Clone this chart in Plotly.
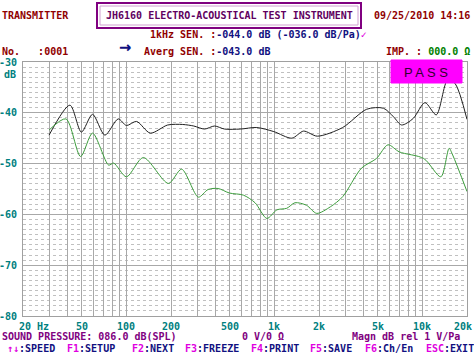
import plotly.graph_objects as go
import math

# ---------------- data ----------------
black_freq = [30, 41.5, 49.6, 59, 71.5, 88, 100, 117, 145, 190, 240, 285, 337, 394, 460,
              587, 760, 990, 1311, 1572, 1950, 2890, 4200, 5450, 6380, 7230, 8670, 10400,
              12400, 14800, 16600, 20000]
black_db = [-44.4, -38.5, -43.8, -40.3, -44.4, -41.2, -42.5, -41.7, -44.0, -42.4, -42.3,
            -42.6, -43.2, -42.6, -43.2, -43.2, -42.9, -43.7, -45.0, -43.6, -44.6, -42.9,
            -39.3, -39.1, -40.8, -42.4, -41.1, -38.0, -40.4, -33.5, -34.2, -41.3]

green_freq = [30, 39, 49, 59, 75.8, 82, 100, 130, 192, 236, 306, 356, 416, 497, 616, 739,
              889, 1039, 1211, 1377, 1646, 1930, 2389, 2894, 3872, 4885, 5850, 6983,
              10210, 13310, 15140, 16000, 20000]
green_db = [-43.4, -41.2, -48.6, -44.0, -50.3, -49.9, -52.6, -48.8, -53.9, -51.1, -56.6,
            -55.1, -54.9, -55.8, -56.2, -57.7, -60.8, -59.1, -58.8, -57.7, -58.2, -59.8,
            -58.5, -56.5, -50.9, -49.0, -46.3, -47.7, -49.0, -52.6, -47.0, -48.3, -55.5]

grid_freqs = [20, 30, 40, 50, 60, 70, 80, 90, 100, 200, 300, 400, 500, 600, 700, 800, 900,
              1000, 2000, 3000, 4000, 5000, 6000, 7000, 8000, 9000, 10000, 20000]
xlab_vals = [20, 50, 100, 200, 500, 1000, 2000, 5000, 10000, 20000]
xlab_text = ["20 Hz", "50", "100", "200", "500", "1k", "2k", "5k", "10k", "20k"]
ytick_vals = [-80, -70, -60, -50, -40, -30]
ytick_text = ["-80", "-70", "-60", "-50", "-40", "-30"]

# ---------------- layout helpers ----------------
W, H = 474, 355
L, R, T, B = 23, 467, 62, 316


def px(x):
    return (x - L) / (R - L)


def py(y):
    return (B - y) / (B - T)


MONO = "DejaVu Sans Mono"
MAROON = "#900000"
NAVY = "#101080"
PURPLE = "#800080"
MAG = "#e000e0"
TEAL = "#008080"

fig = go.Figure()
fig.add_trace(go.Scatter(x=black_freq, y=black_db, mode="lines",
                         line=dict(color="#202020", width=1, shape="spline", smoothing=0.8),
                         hoverinfo="skip"))
fig.add_trace(go.Scatter(x=green_freq, y=green_db, mode="lines",
                         line=dict(color="#3c9c3c", width=1, shape="spline", smoothing=0.8),
                         hoverinfo="skip"))

ann = []


def txt(x, y, text, anchor="left", size=10, weight="bold", family=MONO, color="#000"):
    ann.append(dict(x=px(x), y=py(y), xref="paper", yref="paper", text=text,
                    showarrow=False, xanchor=anchor, yanchor="middle",
                    font=dict(family=family, size=size, color=color, weight=weight)))


def c(col, s):
    return f"<span style='color:{col}'>{s}</span>"


txt(0, 15, "TRANSMITTER", color=MAROON)
txt(229, 15, "JH6160 ELECTRO-ACOUSTICAL TEST INSTRUMENT", anchor="center", color="#600060")
txt(472, 15, "09/25/2010 14:16", anchor="right", color=MAROON)
txt(148, 35, c(MAROON, "1kHz SEN. :") + c(NAVY, "-044.0 dB (-036.0 dB/Pa)") + c(MAG, "✓"))
txt(0, 51, "No.   :0001", color=MAROON)
txt(125, 46, "→", anchor="center", size=20, color=NAVY)
txt(142, 51, c(MAROON, "Averg SEN. :") + c(NAVY, "-043.0 dB"))
txt(472, 51, c(MAROON, "IMP. : ") + c("#008000", "000.0 Ω"), anchor="right")
txt(18, 74, "dB", anchor="right", color=TEAL)

# x-axis labels placed by the axis scale
for v, t in zip(xlab_vals, xlab_text):
    a = dict(x=math.log10(v), y=py(326), xref="x", yref="paper", text=t, showarrow=False,
             xanchor="center", yanchor="middle",
             font=dict(family=MONO, size=10, color=TEAL, weight="bold"))
    if t == "20 Hz":
        a["xanchor"] = "left"
        a["xshift"] = -6
    if t == "20k":
        a["xanchor"] = "right"
        a["xshift"] = 7
    ann.append(a)

txt(0, 336, "SOUND PRESSURE: 086.0 dB(SPL)", color=PURPLE)
txt(263, 336, "0 V/0 Ω", anchor="center", color=PURPLE)
txt(462, 336, "Magn dB rel 1 V/Pa", anchor="right", color=PURPLE)

keys = [(5, "↑↓", ":SPEED"), (65, "F1", ":SETUP"), (130, "F2", ":NEXT"),
        (183, "F3", ":FREEZE"), (249, "F4", ":PRINT"), (308, "F5", ":SAVE"),
        (363, "F6", ":Ch/En"), (424, "ESC", ":EXIT")]
for x, k, lab in keys:
    txt(x, 348, c(MAG, k) + c(NAVY, lab))

txt(426, 72, "P A S S", anchor="center", size=13, weight="normal",
    family="Liberation Sans", color="#300030")

shapes = [
    dict(type="rect", xref="paper", yref="paper", x0=px(97), x1=px(361), y0=py(28), y1=py(3),
         line=dict(color="#800080", width=2), layer="above"),
    dict(type="rect", xref="paper", yref="paper", x0=px(100), x1=px(358), y0=py(25), y1=py(6),
         line=dict(color="#d0a0d0", width=1), layer="above"),
    dict(type="rect", xref="paper", yref="paper", x0=px(391), x1=px(462), y0=py(83), y1=py(60),
         fillcolor="#ff00ff", line=dict(color="#ff00ff", width=1), layer="above"),
]

fig.update_layout(
    width=W, height=H, autosize=False,
    margin=dict(l=L, r=W - R, t=T, b=H - B, pad=0, autoexpand=False),
    paper_bgcolor="white", plot_bgcolor="white",
    showlegend=False,
    annotations=ann, shapes=shapes,
    xaxis=dict(type="log", range=[math.log10(20), math.log10(20000)],
               tickvals=grid_freqs, showticklabels=False, ticks="",
               showgrid=True, gridcolor="#a8a8a8", gridwidth=1,
               showline=True, mirror=True, linecolor="#a0a0a0", linewidth=1,
               zeroline=False, fixedrange=True, automargin=False),
    yaxis=dict(range=[-80, -30], tickvals=ytick_vals, ticktext=ytick_text,
               ticks="outside", ticklen=3, tickcolor="rgba(0,0,0,0)",
               tickfont=dict(family=MONO, size=10, color=TEAL, weight="bold"),
               showgrid=True, gridcolor="#a8a8a8", gridwidth=1,
               minor=dict(dtick=1, showgrid=True, gridcolor="#c0c0c0",
                          griddash="dot", gridwidth=1),
               showline=True, mirror=True, linecolor="#a0a0a0", linewidth=1,
               zeroline=False, fixedrange=True, automargin=False),
)

fig.write_html("out.html", config=dict(displayModeBar=False),
               post_script="document.body.style.margin='0px';document.body.style.overflow='hidden';")
